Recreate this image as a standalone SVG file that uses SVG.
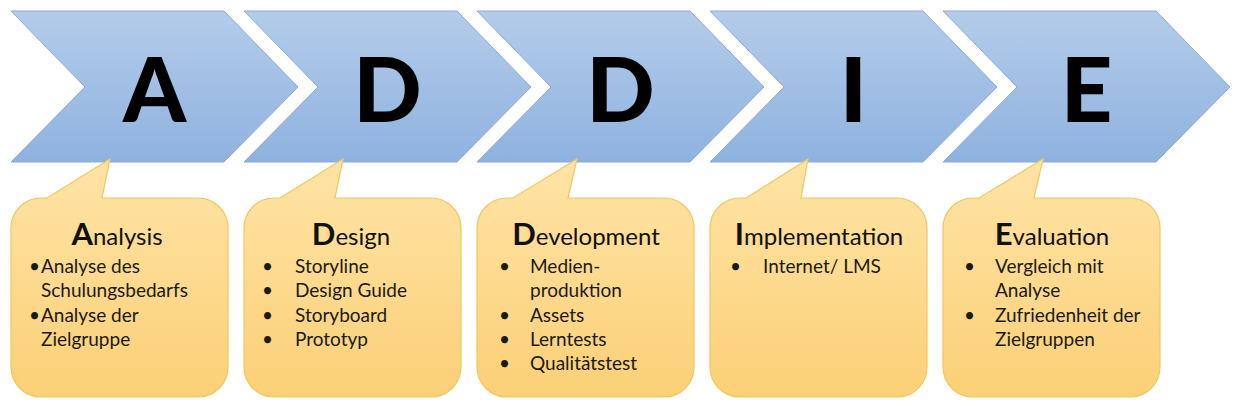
<svg xmlns="http://www.w3.org/2000/svg" width="1240" height="410" viewBox="0 0 1240 410">
<defs>
<linearGradient id="gBlue" x1="0" y1="0" x2="0" y2="1">
<stop offset="0" stop-color="#B4CCEA"/>
<stop offset="1" stop-color="#8EB2DF"/>
</linearGradient>
<linearGradient id="gYel" x1="0" y1="0" x2="0" y2="1">
<stop offset="0" stop-color="#FFE4A6"/>
<stop offset="1" stop-color="#FBD077"/>
</linearGradient>
<style>
.chev{fill:url(#gBlue);stroke:#8DAAD6;stroke-width:1}
.call{fill:url(#gYel);stroke:#F2C65E;stroke-width:1.2}
.big{font-family:Lato,"Liberation Sans",sans-serif;font-weight:900;font-size:90px;fill:#000;text-anchor:middle}
.ttl{font-family:Lato,"Liberation Sans",sans-serif;font-size:24px;fill:#111;text-anchor:middle}
.ttl .f{font-weight:bold;font-size:31px}
.bd{font-family:Lato,"Liberation Sans",sans-serif;font-size:19px;fill:#1a1a1a}
</style>
</defs>
<g id="chevrons">
<g id="chev-A"><path class="chev" d="M11,11 L224,11 L298,87 L224,162 L11,162 L85,87 Z"/><text class="big" x="154.5" y="122">A</text></g>
<g id="chev-D1"><path class="chev" d="M244,11 L457,11 L531,87 L457,162 L244,162 L318,87 Z"/><text class="big" x="387.5" y="122">D</text></g>
<g id="chev-D2"><path class="chev" d="M477,11 L690,11 L764,87 L690,162 L477,162 L551,87 Z"/><text class="big" x="620.5" y="122">D</text></g>
<g id="chev-I"><path class="chev" d="M710,11 L923,11 L997,87 L923,162 L710,162 L784,87 Z"/><text class="big" x="853.5" y="122">I</text></g>
<g id="chev-E"><path class="chev" d="M943,11 L1156,11 L1230,87 L1156,162 L943,162 L1017,87 Z"/><text class="big" x="1086.5" y="122">E</text></g>
</g>
<g id="connectors"></g>
<g id="box-analysis">
<path class="call" d="M41,198 L47,198 L110,159 L102,198 L198,198 A30,30 0 0 1 228,228 L228,367 A30,30 0 0 1 198,397 L41,397 A30,30 0 0 1 11,367 L11,228 A30,30 0 0 1 41,198 Z"/>
<text class="ttl" x="117" y="245"><tspan class="f">A</tspan>nalysis</text>
<text class="bd" x="29" y="273">•</text><text class="bd" x="41" y="273">Analyse des</text>
<text class="bd" x="41" y="297">Schulungsbedarfs</text>
<text class="bd" x="29" y="322">•</text><text class="bd" x="41" y="322">Analyse der</text>
<text class="bd" x="41" y="346">Zielgruppe</text>
</g>
<g id="box-design">
<path class="call" d="M274,198 L280,198 L343,159 L335,198 L431,198 A30,30 0 0 1 461,228 L461,367 A30,30 0 0 1 431,397 L274,397 A30,30 0 0 1 244,367 L244,228 A30,30 0 0 1 274,198 Z"/>
<text class="ttl" x="351" y="245"><tspan class="f">D</tspan>esign</text>
<text class="bd" x="262" y="273">•</text><text class="bd" x="295" y="273">Storyline</text>
<text class="bd" x="262" y="297">•</text><text class="bd" x="295" y="297">Design Guide</text>
<text class="bd" x="262" y="322">•</text><text class="bd" x="295" y="322">Storyboard</text>
<text class="bd" x="262" y="346">•</text><text class="bd" x="295" y="346">Prototyp</text>
</g>
<g id="box-development">
<path class="call" d="M507,198 L513,198 L577,159 L568,198 L664,198 A30,30 0 0 1 694,228 L694,367 A30,30 0 0 1 664,397 L507,397 A30,30 0 0 1 477,367 L477,228 A30,30 0 0 1 507,198 Z"/>
<text class="ttl" x="586" y="245"><tspan class="f">D</tspan>evelopment</text>
<text class="bd" x="499" y="273">•</text><text class="bd" x="530" y="273">Medien-</text>
<text class="bd" x="530" y="297">produktion</text>
<text class="bd" x="499" y="322">•</text><text class="bd" x="530" y="322">Assets</text>
<text class="bd" x="499" y="346">•</text><text class="bd" x="530" y="346">Lerntests</text>
<text class="bd" x="499" y="370">•</text><text class="bd" x="530" y="370">Qualitätstest</text>
</g>
<g id="box-implementation">
<path class="call" d="M740,198 L746,198 L808,159 L801,198 L897,198 A30,30 0 0 1 927,228 L927,367 A30,30 0 0 1 897,397 L740,397 A30,30 0 0 1 710,367 L710,228 A30,30 0 0 1 740,198 Z"/>
<text class="ttl" x="819" y="245"><tspan class="f">I</tspan>mplementation</text>
<text class="bd" x="730" y="273">•</text><text class="bd" x="763" y="273">Internet/ LMS</text>
</g>
<g id="box-evaluation">
<path class="call" d="M973,198 L979,198 L1043,159 L1034,198 L1130,198 A30,30 0 0 1 1160,228 L1160,367 A30,30 0 0 1 1130,397 L973,397 A30,30 0 0 1 943,367 L943,228 A30,30 0 0 1 973,198 Z"/>
<text class="ttl" x="1052" y="245"><tspan class="f">E</tspan>valuation</text>
<text class="bd" x="964" y="273">•</text><text class="bd" x="995" y="273">Vergleich mit</text>
<text class="bd" x="995" y="297">Analyse</text>
<text class="bd" x="964" y="322">•</text><text class="bd" x="995" y="322">Zufriedenheit der</text>
<text class="bd" x="995" y="346">Zielgruppen</text>
</g>
</svg>
